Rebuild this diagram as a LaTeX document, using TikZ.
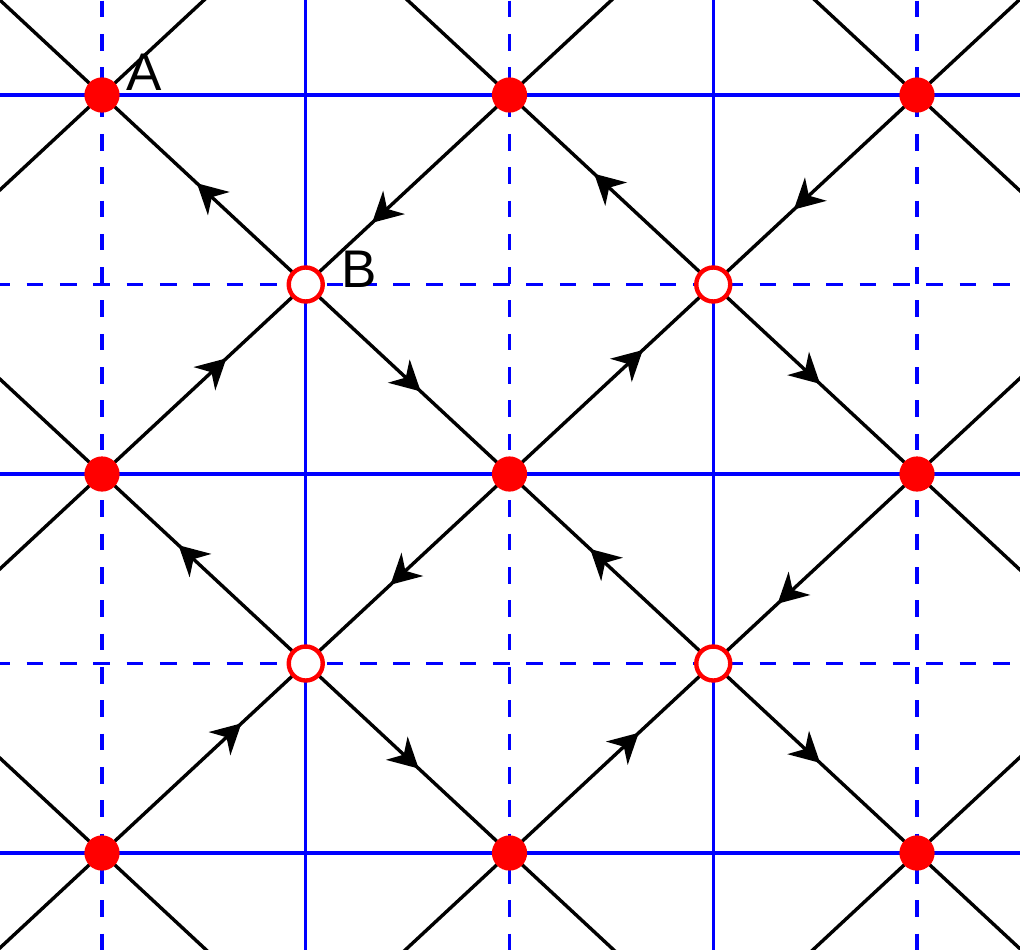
\documentclass[tikz,border=0pt]{standalone}
\usepackage{fontspec}
\setmainfont{Liberation Sans}
\usetikzlibrary{decorations.markings}
\begin{document}
\begin{tikzpicture}[x=101.875pt,y=-94.75pt,
  blueline/.style={blue, line width=1.7pt},
  bluedash/.style={blueline, dash pattern=on 8.33pt off 8.33pt, dash phase=2.44pt},
  lattice/.style={black, line width=1.7pt},
  fulldot/.style={circle, fill=red, inner sep=0pt, minimum size=17.6pt},
  opendot/.style={circle, draw=red, fill=white, line width=2.2pt, inner sep=0pt, minimum size=17pt},
  lbl/.style={anchor=base, inner sep=0pt, font=\fontsize{26.5}{30}\selectfont},
  arr/.style={postaction={decorate}, decoration={markings, mark=at position #1 with {\fill[black] (0.6pt,0pt) -- (-14.4pt,8pt) -- (-9.6pt,0pt) -- (-14.4pt,-8pt) -- cycle;}}}
]
\useasboundingbox (-0.50061,-0.50132) rectangle (4.50552,4.50660);
\foreach \i in {-5,...,9} \foreach \j in {-1,...,5} \coordinate (p\i_\j) at (\i,\j);
\begin{scope}
\clip (-0.50061,-0.50132) rectangle (4.50552,4.50660);
% blue grid
\foreach \i in {1,3} \draw[blueline] (p\i_-1) -- (p\i_5);
\foreach \i in {0,2,4} \draw[bluedash] (p\i_-1) -- (p\i_5);
\foreach \j in {0,2,4} \draw[blueline] (p-1_\j) -- (p5_\j);
\foreach \j in {1,3} \draw[bluedash] (p-1_\j) -- (p5_\j);
% black lattice lines
\foreach \c in {-4,-2,...,4} {\pgfmathtruncatemacro\s{\c-1}\pgfmathtruncatemacro\e{\c+5}\draw[lattice] (p\s_-1) -- (p\e_5);}
\foreach \c in {0,2,...,8} {\pgfmathtruncatemacro\s{\c+1}\pgfmathtruncatemacro\e{\c-5}\draw[lattice] (p\s_-1) -- (p\e_5);}
\end{scope}
% arrows
\path[arr=0.53] (p1_1) -- (p0_0);
\path[arr=0.67] (p2_0) -- (p1_1);
\path[arr=0.606] (p0_2) -- (p1_1);
\path[arr=0.56] (p1_1) -- (p2_2);
\path[arr=0.58] (p3_1) -- (p2_0);
\path[arr=0.60] (p4_0) -- (p3_1);
\path[arr=0.65] (p2_2) -- (p3_1);
\path[arr=0.52] (p3_1) -- (p4_2);
\path[arr=0.62] (p1_3) -- (p0_2);
\path[arr=0.58] (p2_2) -- (p1_3);
\path[arr=0.68] (p0_4) -- (p1_3);
\path[arr=0.55] (p1_3) -- (p2_4);
\path[arr=0.60] (p3_3) -- (p2_2);
\path[arr=0.68] (p4_2) -- (p3_3);
\path[arr=0.63] (p2_4) -- (p3_3);
\path[arr=0.52] (p3_3) -- (p4_4);
% dots
\foreach \i in {0,2,4} \foreach \j in {0,2,4} \node[fulldot] (d\i_\j) at (p\i_\j) {};
\foreach \i in {1,3} \foreach \j in {1,3} \node[opendot] (o\i_\j) at (p\i_\j) {};
% labels
\node[lbl] (labA) at (0.2086,-0.0264) {A};
\node[lbl] (labB) at (1.2613,1.0132) {B};
\end{tikzpicture}
\end{document}
